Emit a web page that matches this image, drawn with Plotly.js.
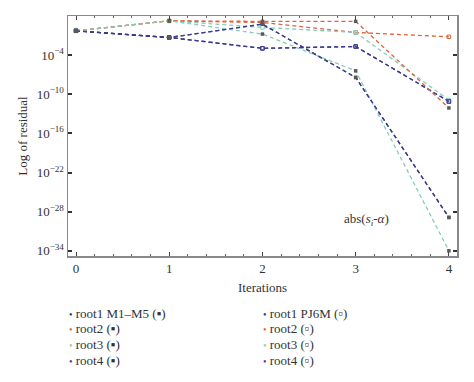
<!DOCTYPE html>
<html>
<head>
<meta charset="utf-8">
<script src="https://cdn.plot.ly/plotly-3.0.1.min.js"></script>
<style>html,body{margin:0;padding:0;background:#fff;}#chart{width:474px;height:382px;}</style>
</head>
<body>
<div id="chart"></div>
<script>
// Iterations
const iterations = [0, 1, 2, 3, 4];
// Residuals
const root1_M = [0.54, 0.051, 5.6, 3.8e-8, 1.3e-29];
const root2_M = [0.54, 18, 15, 15, 7.9e-13];
const root3_M = [0.54, 18, 0.17, 3.9e-7, 1.0e-34];
const root4_M = [0.54, 0.051, 5.6, 3.8e-8, 1.3e-29];
const root1_P = [0.54, 0.051, 1.1e-3, 2.1e-3, 7.9e-12];
const root2_P = [0.54, 18, 10, 0.30, 0.065];
const root3_P = [0.54, 18, 1.8, 0.30, 1.3e-11];
const root4_P = [0.54, 0.051, 1.1e-3, 2.1e-3, 7.9e-12];

const labels = ["root1 M1–M5 (▪)", "root2 (▪)", "root3 (▪)", "root4 (▪)",
                "root1 PJ6M (▫)", "root2 (▫)", "root3 (▫)", "root4 (▫)"];
const yTickVals = [1e-34, 1e-28, 1e-22, 1e-16, 1e-10, 1e-4];
const yTickText = ["10<sup>−34</sup>", "10<sup>−28</sup>", "10<sup>−22</sup>", "10<sup>−16</sup>", "10<sup>−10</sup>", "10<sup>−4</sup>"];

const colors = ["#2c2e6e", "#dc643d", "#86cbbd", "#3c3c96"];
const seriesM = [root1_M, root2_M, root3_M, root4_M];
const seriesP = [root1_P, root2_P, root3_P, root4_P];

const traces = [];
seriesP.forEach((ys, i) => {
  traces.push({x: iterations, y: ys, type: 'scatter', mode: 'lines+markers', showlegend: false,
    line: {color: colors[i], width: 1.3, dash: '4px,3px'},
    marker: {symbol: 'square-open', size: 3.5, color: colors[i], line: {width: 1, color: colors[i]}}});
});
seriesM.forEach((ys, i) => {
  traces.push({x: iterations, y: ys, type: 'scatter', mode: 'lines+markers', showlegend: false,
    line: {color: colors[i], width: 1.3, dash: '4px,3px'},
    marker: {symbol: 'square', size: 3.5, color: '#5a5a5a'}});
});

const L = 68, R = 457, T = 16, B = 256;
const px = v => (v - L) / (R - L);
const py = v => (B - v) / (B - T);

const annotations = [];
labels.forEach((lab, k) => {
  const col = Math.floor(k / 4), row = k % 4;
  annotations.push({xref: 'paper', yref: 'paper', x: px(col === 0 ? 67 : 261), y: py(313 + row * 15.7),
    xanchor: 'left', yanchor: 'middle', showarrow: false,
    text: '<span style="color:' + colors[row] + ';font-size:10px">•</span> ' + lab,
    font: {family: 'Liberation Serif, serif', size: 13, color: '#333'}});
});
annotations.push({xref: 'paper', yref: 'paper', x: px(366), y: py(219), xanchor: 'center', yanchor: 'middle',
  showarrow: false, text: 'abs(<i>s<sub>i</sub></i>-<i>α</i>)',
  font: {family: 'Liberation Serif, serif', size: 13, color: '#333'}});

const layout = {
  width: 474, height: 382,
  margin: {l: L, r: 474 - R, t: T, b: 382 - B},
  paper_bgcolor: '#fff', plot_bgcolor: '#fff',
  font: {family: 'Liberation Serif, serif', size: 13, color: '#333'},
  xaxis: {range: [-0.086, 4.087], tickvals: [0, 1, 2, 3, 4], ticks: 'inside', ticklen: 4, tickcolor: '#444',
    showgrid: false, zeroline: false, showline: true, linecolor: '#888', linewidth: 1.5, mirror: 'ticks',
    minor: {dtick: 0.2, ticks: 'inside', ticklen: 2, tickcolor: '#666', showgrid: false},
    title: {text: 'Iterations', standoff: 8, font: {size: 13}}},
  yaxis: {type: 'log', range: [-34.8, 2.0], tickvals: yTickVals, ticktext: yTickText, ticks: 'inside', ticklen: 4,
    tickwidth: 2, tickcolor: '#333', showgrid: false, zeroline: false, showline: true, linecolor: '#888', linewidth: 1.5,
    mirror: 'ticks', title: {text: 'Log of residual', standoff: 6, font: {size: 13}}},
  annotations: annotations
};

Plotly.newPlot('chart', traces, layout, {displayModeBar: false, staticPlot: true});
</script>
</body>
</html>
